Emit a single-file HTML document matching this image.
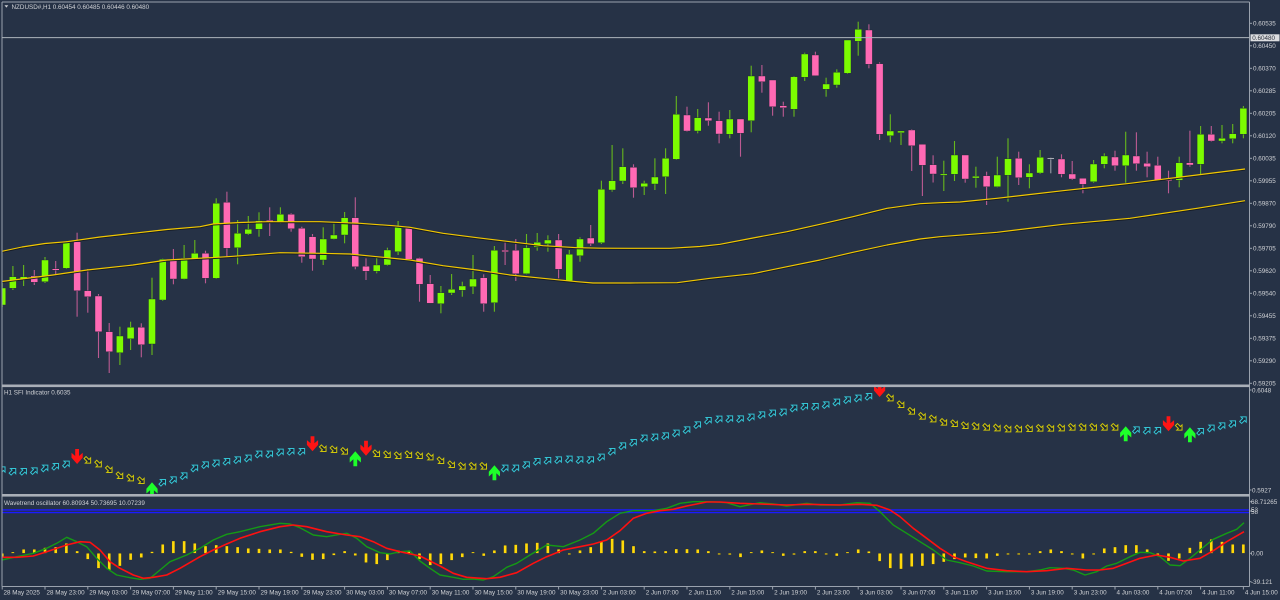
<!DOCTYPE html>
<html><head><meta charset="utf-8">
<style>
html,body{margin:0;padding:0;background:#263246;width:1280px;height:600px;overflow:hidden}
svg{display:block}
text{font-family:"Liberation Sans",sans-serif;font-size:6.3px;fill:#d0d2d6}
</style></head><body>
<svg id="c" width="1280" height="600" viewBox="0 0 1280 600" xmlns="http://www.w3.org/2000/svg">
<defs>
<clipPath id="cm"><rect x="2.5" y="2.5" width="1246.5" height="382"/></clipPath>
<clipPath id="cs"><rect x="2.5" y="387" width="1246.5" height="107"/></clipPath>
<clipPath id="cw"><rect x="2.5" y="496.5" width="1246.5" height="89.5"/></clipPath>
</defs>
<rect width="1280" height="600" fill="#263246"/>
<g id="gm" clip-path="url(#cm)"></g>
<g id="gs" clip-path="url(#cs)"></g>
<g id="gw" clip-path="url(#cw)"></g>
<g id="frame">
<line x1="2" y1="2" x2="1249.5" y2="2" stroke="#9aa2ae" stroke-width="1"/>
<line x1="2" y1="2" x2="2" y2="586.5" stroke="#9aa2ae" stroke-width="1"/>
<line x1="1249.5" y1="2" x2="1249.5" y2="586.5" stroke="#9aa2ae" stroke-width="1"/>
<line x1="2" y1="586.5" x2="1249.5" y2="586.5" stroke="#9aa2ae" stroke-width="1"/>
<rect x="2" y="384.5" width="1247.5" height="2.6" fill="#a9afb8"/>
<rect x="2" y="494" width="1247.5" height="2.6" fill="#a9afb8"/>
<line x1="2" y1="37.6" x2="1249.5" y2="37.6" stroke="#aeb4bc" stroke-width="1"/>
</g>
<g id="ticks"></g>
<!-- header -->
<path d="M4.5,5.2 L8.3,5.2 L6.4,7.6 Z" fill="#d0d2d6"/>
<text x="11.5" y="9">NZDUSD#,H1  0.60454 0.60485 0.60446 0.60480</text>
<text x="4" y="394.5">H1 SFI Indicator 0.6035</text>
<text x="4" y="504.8">Wavetrend oscillator 60.80934 50.73695 10.07239</text>
<!-- main price axis -->
<g>
<text x="1253" y="25.5">0.60535</text>
<text x="1253" y="48">0.60450</text>
<text x="1253" y="70.5">0.60370</text>
<text x="1253" y="93">0.60285</text>
<text x="1253" y="115.5">0.60205</text>
<text x="1253" y="138">0.60120</text>
<text x="1253" y="160.5">0.60035</text>
<text x="1253" y="183">0.59955</text>
<text x="1253" y="205.5">0.59870</text>
<text x="1253" y="228">0.59790</text>
<text x="1253" y="250.5">0.59705</text>
<text x="1253" y="273">0.59620</text>
<text x="1253" y="295.5">0.59540</text>
<text x="1253" y="318">0.59455</text>
<text x="1253" y="340.5">0.59375</text>
<text x="1253" y="363">0.59290</text>
<text x="1253" y="385.5">0.59205</text>
<rect x="1250.5" y="34.3" width="29" height="7" fill="#dcdde0"/>
<text x="1252.3" y="40.1" style="fill:#2a2f3a">0.60480</text>
<text x="1252" y="392.5">0.6048</text>
<text x="1252" y="492.5">0.5927</text>
<text x="1251" y="504">68.71265</text>
<text x="1251" y="512">53</text>
<text x="1251" y="514">58</text>
<text x="1251" y="555.6">0.00</text>
<text x="1251" y="584">-39.121</text>
</g>
<!-- time axis -->
<g>
<text x="3.5" y="594.6">28 May 2025</text>
<text x="46.5" y="594.6">28 May 23:00</text>
<text x="89.3" y="594.6">29 May 03:00</text>
<text x="132.1" y="594.6">29 May 07:00</text>
<text x="174.9" y="594.6">29 May 11:00</text>
<text x="217.7" y="594.6">29 May 15:00</text>
<text x="260.5" y="594.6">29 May 19:00</text>
<text x="303.3" y="594.6">29 May 23:00</text>
<text x="346.1" y="594.6">30 May 03:00</text>
<text x="388.9" y="594.6">30 May 07:00</text>
<text x="431.7" y="594.6">30 May 11:00</text>
<text x="474.5" y="594.6">30 May 15:00</text>
<text x="517.3" y="594.6">30 May 19:00</text>
<text x="560.1" y="594.6">30 May 23:00</text>
<text x="602.9" y="594.6">2 Jun 03:00</text>
<text x="645.7" y="594.6">2 Jun 07:00</text>
<text x="688.5" y="594.6">2 Jun 11:00</text>
<text x="731.3" y="594.6">2 Jun 15:00</text>
<text x="774.1" y="594.6">2 Jun 19:00</text>
<text x="816.9" y="594.6">2 Jun 23:00</text>
<text x="859.7" y="594.6">3 Jun 03:00</text>
<text x="902.5" y="594.6">3 Jun 07:00</text>
<text x="945.3" y="594.6">3 Jun 11:00</text>
<text x="988.1" y="594.6">3 Jun 15:00</text>
<text x="1030.9" y="594.6">3 Jun 19:00</text>
<text x="1073.7" y="594.6">3 Jun 23:00</text>
<text x="1116.5" y="594.6">4 Jun 03:00</text>
<text x="1159.3" y="594.6">4 Jun 07:00</text>
<text x="1202.1" y="594.6">4 Jun 11:00</text>
<text x="1244.9" y="594.6">4 Jun 15:00</text>
</g>
</svg>
<script>
(function(){
const NS='http://www.w3.org/2000/svg';
function el(t,a,p){const e=document.createElementNS(NS,t);for(const k in a)e.setAttribute(k,a[k]);p.appendChild(e);return e;}
const X=i=>2.2+10.7*i;
const gm=document.getElementById('gm'),gs=document.getElementById('gs'),gw=document.getElementById('gw'),gt=document.getElementById('ticks');
const C=[
[283,288,305,307,'g'],[266,276.7,288.3,290,'g'],[265,276.7,279,286,'g'],[270,276,282.3,285,'p'],[257,260,281.7,283,'g'],
[261,269,270,274,'p'],[241,241.7,268.3,269,'g'],[232.7,241.7,290.7,316.7,'p'],[269,290.7,296.7,312.7,'p'],[294,296,331.7,358,'p'],
[323,331.7,351.7,373,'p'],[326.7,336,352.7,365,'g'],[321.7,327.3,338.7,350,'g'],[323.3,327.3,344.7,357.3,'p'],[277.7,299,344,355,'g'],
[258.7,259.3,300,301,'g'],[249,259.3,279,284.3,'p'],[245,258.3,279,279.5,'g'],[240,253.3,259.3,260,'g'],[250.7,253.3,278.3,283.3,'p'],
[198.3,203.3,278.3,279,'g'],[191.7,202.3,248.3,256.7,'p'],[220,233.3,247.7,264.3,'g'],[216,229.3,234,235,'g'],[212.3,220.7,229.3,236.7,'g'],
[207.3,220.3,222,236,'p'],[207.3,214.3,221.7,223.3,'g'],[213.3,214.3,228.7,231.7,'p'],[226.7,228.3,256.7,262.7,'p'],[234,236.7,259,270.7,'p'],
[227.3,239,260,265,'g'],[222.7,235,239,239.5,'g'],[212,217.7,235,243.3,'g'],[197.3,217.7,266.7,269.3,'p'],[258.3,266.3,271.3,280,'p'],
[256.7,265,271.3,273.3,'g'],[247.7,250,265,265.7,'g'],[221,227.3,251.7,255,'g'],[226.7,227.3,259.3,260,'p'],[257.7,258.3,284.3,301.7,'p'],
[275,283.7,303.3,303.5,'p'],[286,292.7,303.7,313.3,'g'],[274,289.3,293,295,'g'],[281.7,286,290.3,296.7,'g'],[255,279,286.7,294,'g'],
[274.3,277.7,303.7,311.7,'p'],[246,250.3,302.7,311.7,'g'],[241.7,250.5,251.5,265,'p'],[239,250.3,273.7,281,'p'],[234,247.7,273.7,274.3,'g'],
[233,242.3,247.3,250.7,'g'],[235.3,240,243.7,251.7,'g'],[234,240,269.3,278.3,'p'],[250,254.3,280.7,281.7,'g'],[237.3,239,255.7,261.7,'g'],
[225,238,243.7,246,'p'],[180.7,189.3,242.7,244,'g'],[145,180.7,190,191.7,'g'],[148.3,166.7,181,184,'g'],[164.3,167.3,187.7,197.7,'p'],
[180.7,183.3,186.7,195,'g'],[158.3,177,184,190,'g'],[148.3,158.3,176.7,194,'g'],[96,114.3,159.3,160,'g'],[106.7,115,131,131.7,'p'],
[109,117.7,131,133.3,'g'],[102.3,118,120.7,125.7,'p'],[111.7,120.7,134,143.3,'p'],[110,119,134.3,138.3,'g'],[119,119,133.3,156.7,'p'],
[65.7,76,120.7,132.3,'g'],[65,76,81.7,92.7,'p'],[80,80,106.7,115.7,'p'],[101.7,105.7,107.7,116.7,'p'],[76,76.7,109.3,116.7,'g'],
[52.7,54,77.3,81,'g'],[51.7,55,75.7,75.7,'p'],[77.7,84,89.3,96.7,'g'],[69.3,72.3,85,87.7,'g'],[40,40,73.3,74,'g'],
[21.7,29.3,41.3,55.7,'g'],[24.3,30,64.3,68.3,'p'],[62.3,63.7,134.3,140,'p'],[114.3,131,135.7,142.3,'g'],[131,131,132.7,145,'g'],
[129.3,130,145.7,171,'p'],[144.3,144.3,165.3,196,'p'],[155.3,164.7,174,182.5,'p'],[160.7,174,175.3,191,'g'],[141,155,174.3,181,'g'],
[155,155,179,182.7,'p'],[166.7,176.3,178,187.7,'g'],[171.7,175.7,186.7,205,'p'],[156.7,175,186.7,187.3,'g'],[138.3,158.7,175.3,201.7,'g'],
[151.7,158.3,177.7,185,'p'],[164.3,173,177.3,188.3,'g'],[150,157.3,173,174,'g'],[157.3,158,158.8,173.3,'d'],[154.3,159,174.3,177.3,'p'],
[161,174,179,180,'p'],[178.3,178.3,184.3,193.3,'p'],[160,164,181.7,182.7,'g'],[153.3,156,164.3,168.3,'g'],[150.7,157,165.7,170.7,'p'],
[131.7,155,165.7,182.7,'g'],[132.3,156,163.7,170.7,'p'],[151.7,163.3,166.7,177.3,'p'],[156.7,165.3,181,181,'p'],[170.7,179.5,180.5,193.3,'p'],
[156.7,162.7,180.3,187.3,'g'],[130.7,162.7,165,166.7,'p'],[126,134.3,164.3,174,'g'],[126,134.3,141,141.7,'p'],[125,138.3,141,143.3,'g'],
[124,133.7,138.7,143.3,'g'],[106,108.3,134.3,138.3,'g']];
const body={g:'#7cfc00',p:'#ff69b4',d:'#b8bcc4'}, wick={g:'#66b81c',p:'#bb5a92',d:'#9aa0a8'};
C.forEach((c,i)=>{const x=X(i);
 el('line',{x1:x,y1:c[0],x2:x,y2:c[3],stroke:wick[c[4]],'stroke-width':1.1},gm);
 let h=c[2]-c[1]; let y=c[1]; if(h<1.4){y=(c[1]+c[2])/2-0.7;h=1.4;}
 el('rect',{x:x-3.5,y:y,width:7,height:h,fill:body[c[4]],stroke:'#1d2634','stroke-width':0.4},gm);
});
function poly(pts,col,w,p,shadow){const s=pts.map(q=>q[0]+','+q[1]).join(' ');
 if(shadow){el('polyline',{points:pts.map(q=>q[0]+','+(q[1]+0.8)).join(' '),fill:'none',stroke:'#151b26','stroke-width':w+0.3,'stroke-linejoin':'round'},p);}
 el('polyline',{points:s,fill:'none',stroke:col,'stroke-width':w,'stroke-linejoin':'round'},p);}
const MA1=[[0,251.7],[22,247],[45,243.5],[67,241.7],[100,237],[133,233.3],[167,229.5],[200,226.7],[213,224],[240,222.5],[267,221.7],[320,221.7],[360,223.3],[393,225.7],[410,227.3],[443,233.3],[477,237.7],[510,241.7],[543,245.7],[577,247.7],[600,248.2],[630,248.3],[670,248.3],[700,246.5],[720,244.3],[753,238],[787,231.7],[820,224.3],[853,216.7],[887,208.3],[920,203.7],[940,202.7],[960,202],[997,198.3],[1030,194.5],[1063,190.7],[1097,187],[1130,183.3],[1163,179.2],[1197,175],[1245,169]];
const MA2=[[0,281.7],[53,275],[87,270],[133,265],[167,260],[217,257.3],[233,256.3],[280,252.7],[320,253.3],[350,254],[377,256.7],[410,260],[443,265.7],[477,270],[510,275],[543,278.3],[577,281.7],[593,283],[630,283],[677,282.7],[710,278.3],[753,273.7],[787,266.7],[820,260],[853,252.3],[887,245],[920,239],[940,236.7],[997,232.3],[1063,224.3],[1130,218.3],[1197,208.3],[1245,200.7]];
poly(MA1,'#f2c800',1.15,gm,true);poly(MA2,'#f2c800',1.15,gm,true);
const S=[['c',469.7],['c',471.3],['c',471.3],['c',470.7],['c',468],['c',466.3],['c',464],['R',449],['y',460.3],['y',464],
['y',469.7],['y',475.7],['y',478],['y',480.7],['G',482.3],['c',482.3],['c',479.7],['c',475.7],['c',468],['c',464.7],
['c',463],['c',461.3],['c',459.7],['c',458],['c',454],['c',454],['c',452],['c',451.3],['c',451.3],['R',436.3],
['y',448.7],['y',449.7],['y',451.3],['G',451.3],['R',440.7],['y',453.7],['y',454.7],['y',455.7],['y',454.7],['y',455.7],
['y',457],['y',460.7],['y',464.7],['y',466.3],['y',466.3],['y',466.3],['G',465.3],['c',468],['c',468],['c',464.7],
['c',461.3],['c',460.3],['c',459.7],['c',459],['c',459.7],['c',459.7],['c',457],['c',451.3],['c',445.7],['c',442.3],
['c',438],['c',437],['c',435.7],['c',433],['c',429.7],['c',424.7],['c',420.3],['c',419],['c',418.7],['c',418.7],
['c',417],['c',414.7],['c',413],['c',412],['c',408],['c',406.3],['c',406.3],['c',404.7],['c',402],['c',399.7],
['c',398],['c',396.3],['R',382],['y',398],['y',404.7],['y',411.3],['y',416.3],['y',419],['y',422.3],['y',423.7],
['y',425.7],['y',426.3],['y',427.3],['y',428],['y',429],['y',429],['y',428.7],['y',428.3],['y',428.3],['y',428],
['y',427.3],['y',427.3],['y',427.3],['y',427.3],['y',427.3],['G',426.3],['c',429.7],['c',430.3],['c',430.3],['R',416.3],
['y',427.3],['G',427.3],['c',431.3],['c',428],['c',425.7],['c',423.7],['c',419.7]];
const small='M0,-4 L3.7,-0.3 L1.4,-0.3 L1.4,3.9 L-1.4,3.9 L-1.4,-0.3 L-3.7,-0.3 Z';
S.forEach((s,i)=>{const x=X(i),y=s[1];
 if(s[0]==='c'){el('path',{d:small,transform:`translate(${x},${y}) rotate(45)`,fill:'#1b2536',stroke:'#35c4d4','stroke-width':1},gs);}
 else if(s[0]==='y'){el('path',{d:small,transform:`translate(${x},${y}) rotate(135)`,fill:'#1b2536',stroke:'#cfc60a','stroke-width':1},gs);}
 else if(s[0]==='R'){const y0=y,y1=y+15;
  el('polygon',{points:`${x-1.9},${y0} ${x+1.9},${y0} ${x+1.9},${y0+7} ${x+5.6},${y0+3.8} ${x+5.6},${y0+8.6} ${x},${y1} ${x-5.6},${y0+8.6} ${x-5.6},${y0+3.8} ${x-1.9},${y0+7}`,fill:'#ff1414'},gs);}
 else {const y0=y,y1=y+15;
  el('polygon',{points:`${x-1.9},${y1} ${x+1.9},${y1} ${x+1.9},${y1-7} ${x+5.6},${y1-3.8} ${x+5.6},${y1-8.6} ${x},${y0} ${x-5.6},${y1-8.6} ${x-5.6},${y1-3.8} ${x-1.9},${y1-7}`,fill:'#1eff2a'},gs);}
});
el('line',{x1:2,y1:509.9,x2:1249,y2:509.9,stroke:'#1a1aff','stroke-width':1.4},gw);
el('line',{x1:2,y1:512.6,x2:1249,y2:512.6,stroke:'#1a1aff','stroke-width':1.4},gw);
const H=[4,-1,-4,-4,-5.7,-6.3,-10,-2.3,6,15,16.7,12.7,6.7,4.3,-1.7,-9,-12.3,-12.3,-10,-7.3,-8.3,-7.3,-6.3,-5,-4.7,-4,-4,-1.7,3.7,6.7,6,2,-2.3,2.3,9.3,11,7,-3,-3,6,
12,11,7,4,-0.7,2.7,-3,-8,-8.7,-10,-10.7,-10,-4,1,-3,-6.3,-12.3,-14.7,-13,-7.3,-2.3,-2,-2.3,-4.3,-4.3,-4,-2.3,1,1.5,4,-0.7,-3,-0.7,2.7,1.5,-2.3,-2.3,1,2.7,
-0.7,-4,-2,8,15,15.7,13.3,12.7,11,8.7,6,4.3,5,5.3,2.7,0.7,0.7,0.7,-2.3,-4,-2.3,1,5.3,1,-5,-6.3,-8.3,-8.3,-4,2.7,7.7,5.3,-5.7,-11.7,-14,-11.7,-9,-9];
const Z=553.3;
H.forEach((d,i)=>{const x=X(i);let h=Math.abs(d);if(h<1.3)h=1.3;const y=d<0?Z-h:Z;
 el('rect',{x:x-1.5,y:y,width:3,height:h,fill:'#ffd90a',stroke:'#1c2430','stroke-width':0.3},gw);});
const GR=[[2,560],[16.7,556.7],[33.3,553.3],[46.7,548.3],[56.7,543.3],[66.7,537.3],[76.7,541.7],[86.7,546.7],[96.7,558.3],[106.7,568.3],[116.7,575],[130,577.7],[140,579.3],[150,578.3],[160,570],[170,561.7],[186.7,555],[200,548.3],[213.3,540],[226.7,534.3],[240,531.7],[260,526.7],[280,523.3],[290,524],[300,527.7],[313.3,535],[326.7,536.7],[340,534.3],[346.7,533.3],[356.7,538.3],[366.7,546.7],[380,552.7],[390,554],[400,551.7],[410,551],[420,561],[430,568.3],[440,575],[453.3,577.3],[463.3,579.3],[473.3,579],[483.3,580],[493.3,576.7],[506.7,567.3],[516.7,563.3],[530,555],[546.7,545],[563.3,546.7],[580,540],[593.3,533.3],[606.7,521.7],[620,513.3],[633.3,510.7],[653.3,510.7],[666.7,508.3],[680,503.3],[693.3,501.7],[710,501.7],[726.7,502.7],[740,506.7],[760,502.7],[773.3,504],[786.7,506],[806.7,503.3],[820,505],[840,505],[856.7,502.7],[870,503.3],[880,511.7],[893.3,525],[906.7,533.3],[920,541.7],[933.3,550],[946.7,560],[960,562.7],[973.3,566],[986.7,571],[1006.7,571.7],[1026.7,571.7],[1040,570],[1050,567.7],[1063.3,568.3],[1073.3,570],[1085,575],[1096.7,571.7],[1106.7,566],[1116.7,563.3],[1130,556.7],[1140,552.3],[1150,552.7],[1160,556.7],[1170,565],[1180,565.7],[1190,558.3],[1200,550],[1213.3,539.3],[1226.7,533.3],[1236.7,529.3],[1244,522.7]];
const RD=[[2,557.3],[16.7,557.3],[33.3,556],[46.7,551.7],[66.7,545],[80,541.7],[90,542.3],[100,550],[110,561.7],[120,568.3],[133.3,575],[143.3,578.3],[153.3,577.3],[166.7,575],[180,568.3],[200,556.7],[213.3,550],[226.7,544],[240,538.3],[260,531.7],[280,526.7],[293.3,525],[306.7,526.7],[326.7,531.7],[346.7,535],[360,536.7],[373.3,541.7],[386.7,548.3],[400,551.7],[420,556],[440,566],[453.3,573.3],[466.7,577.3],[486.7,578.7],[500,577.3],[516.7,572.7],[533.3,563.3],[546.7,556.7],[563.3,550],[580,546.7],[593.3,544],[606.7,540],[620,530.7],[633.3,518.3],[646.7,513.3],[660,510.7],[673.3,509.3],[686.7,506],[706.7,502],[720,502],[740,503.3],[760,504],[786.7,505],[806.7,504.3],[840,505],[860,504.3],[876.7,505.3],[890,510],[900,516.7],[913.3,528.3],[926.7,538.3],[940,548.3],[953.3,556.7],[966.7,561.7],[986.7,568.3],[1006.7,570.7],[1026.7,571.7],[1046.7,570.7],[1066.7,568.3],[1086.7,570],[1100,570],[1113.3,568.3],[1126.7,563.3],[1140,558.3],[1156.7,555],[1170,557.3],[1183.3,561],[1200,558.3],[1213.3,550.7],[1226.7,541.7],[1244,531.7]];
poly(GR,'#159a15',1.4,gw,false);
poly(RD,'#ff1010',1.6,gw,false);
el('line',{x1:2.2,y1:586.5,x2:2.2,y2:589.5,stroke:'#9aa2ae','stroke-width':1},gt);
for(let n=0;n<=28;n++){const x=45+42.8*n;el('line',{x1:x,y1:586.5,x2:x,y2:589.5,stroke:'#9aa2ae','stroke-width':1},gt);}
for(let k=0;k<17;k++){const y=23.3+22.5*k;el('line',{x1:1249.5,y1:y,x2:1252,y2:y,stroke:'#9aa2ae','stroke-width':1},gt);}
[390,490,501.7,511,553.3,581.7].forEach(y=>el('line',{x1:1249.5,y1:y,x2:1251.5,y2:y,stroke:'#9aa2ae','stroke-width':1},gt));
})();
</script>
</body></html>
